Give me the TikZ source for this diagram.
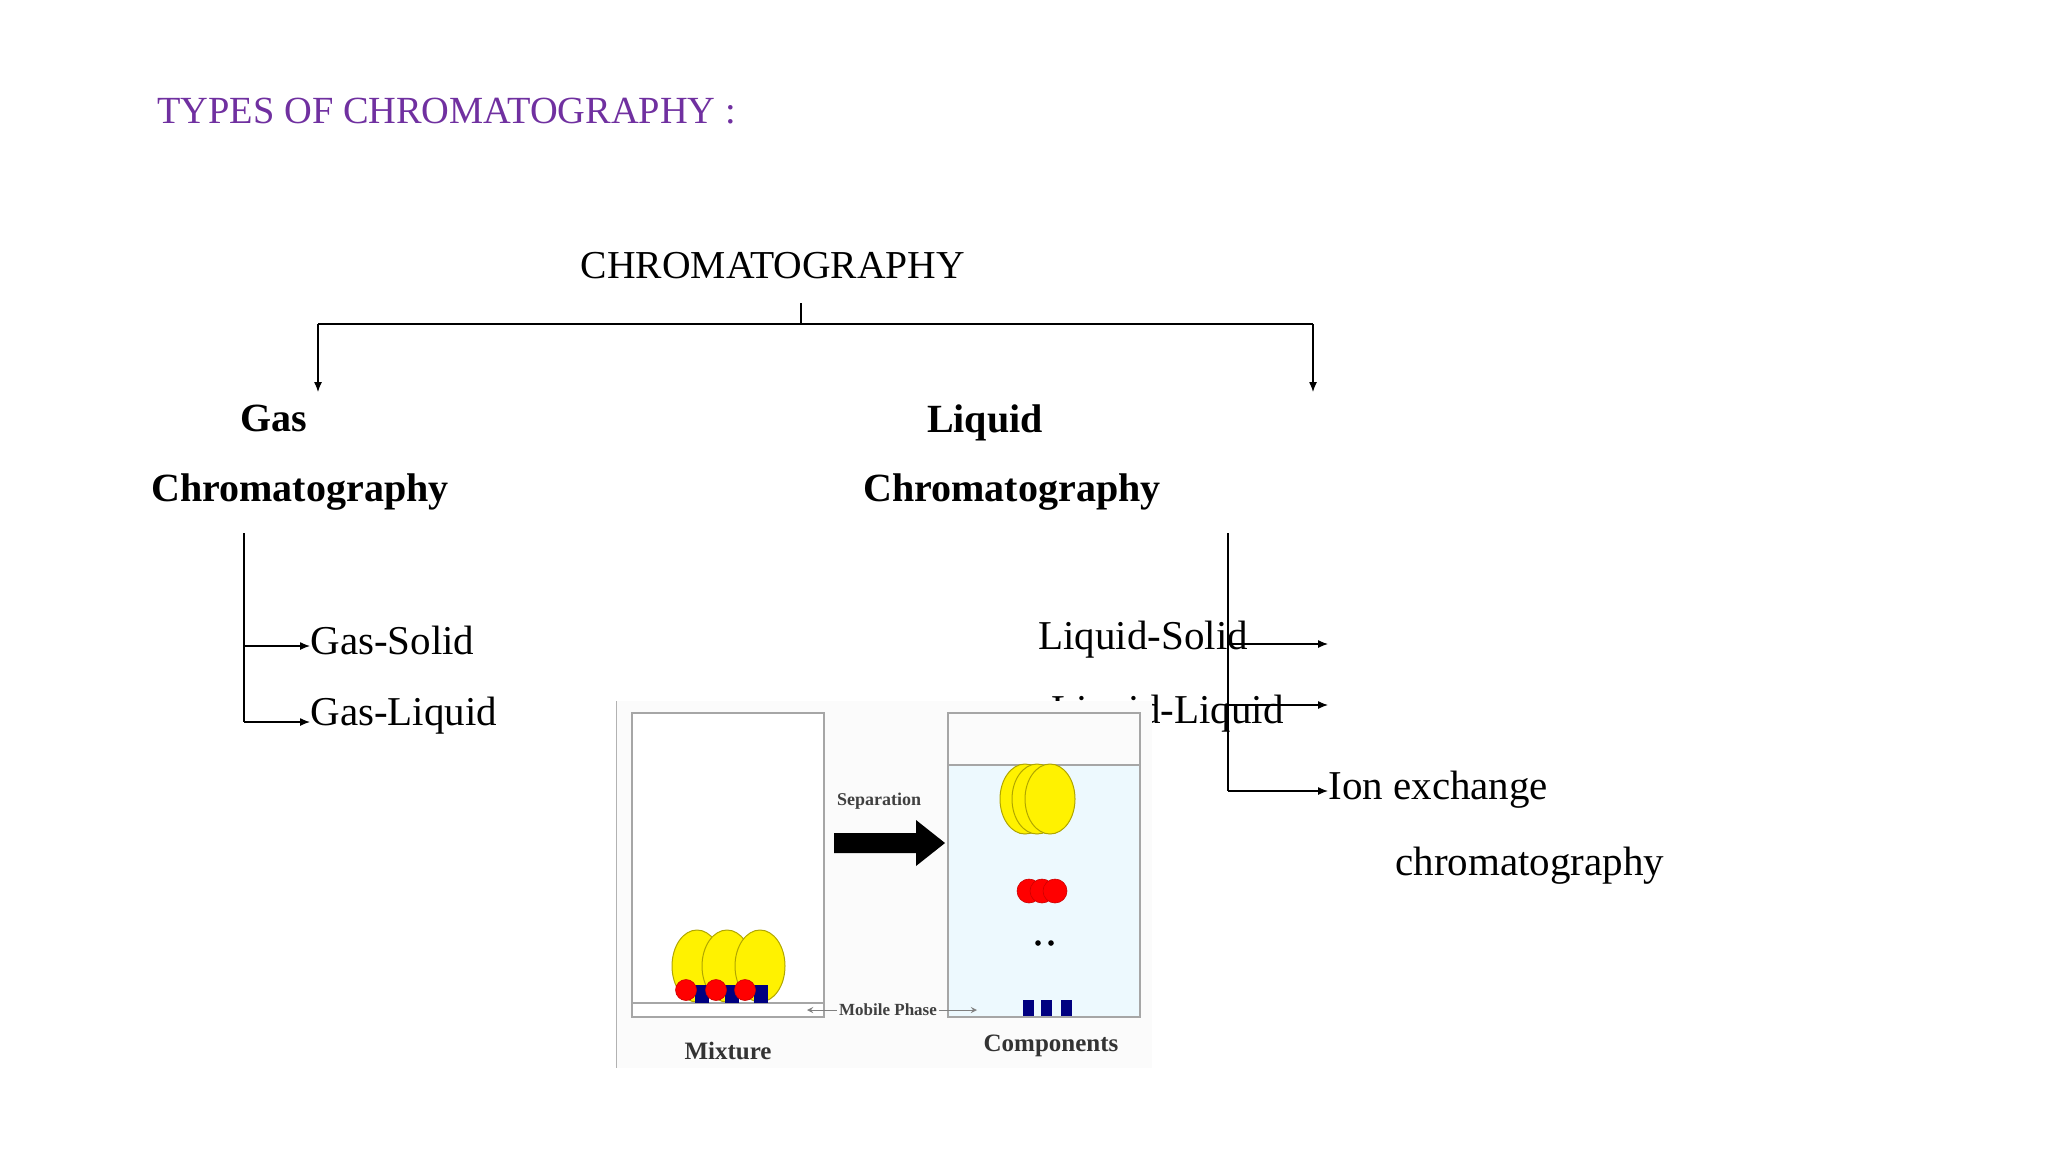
\documentclass[tikz,border=0pt]{standalone}
\usepackage{fontspec}
\setmainfont{Liberation Serif}
\usetikzlibrary{arrows.meta}
\begin{document}
\begin{tikzpicture}[x=0.5pt,y=-0.5pt,
  lbl/.style={inner sep=0pt,font=\fontsize{19}{19}\selectfont},
  sub/.style={inner sep=0pt,anchor=west,font=\fontsize{20.5}{20.5}\selectfont},
  con/.style={black,line width=0.6pt},
  arr/.style={con,-{Latex[length=5pt,width=4pt]}},
  box/.style={draw=gray!70,line width=0.8pt},
  yel/.style={fill=yellow,draw=olive!70!yellow,line width=0.5pt},
  redc/.style={fill=red,draw=red!80!black,line width=0.3pt},
  blu/.style={fill=blue!50!black}]
\useasboundingbox (0,0) rectangle (2048,1152);
\fill[white] (0,0) rectangle (2048,1152);
\definecolor{purp}{RGB}{112,48,160}
\node[inner sep=0pt,anchor=west,text=purp,font=\fontsize{19.2}{19.2}\selectfont] (title) at (157,111) {TYPES OF CHROMATOGRAPHY :};
\node[lbl,font=\fontsize{19.8}{19.8}\selectfont] (root) at (773,266) {CHROMATOGRAPHY};
\node[lbl,font=\bfseries\fontsize{20}{20}\selectfont] (gas1) at (274,418) {Gas};
\node[lbl,font=\bfseries\fontsize{20}{20}\selectfont] (gas2) at (300,492) {Chromatography};
\node[lbl,font=\bfseries\fontsize{20}{20}\selectfont] (liq1) at (985,423) {Liquid};
\node[lbl,font=\bfseries\fontsize{20}{20}\selectfont] (liq2) at (1012,492) {Chromatography};
\coordinate (rt) at (801,303);
\coordinate (rj) at (801,324);
\coordinate (gl) at (318,324);
\coordinate (gr) at (1313,324);
\coordinate (ga) at (318,392);
\coordinate (la) at (1313,392);
\draw[con] (rt) -- (rj);
\draw[con] (gl) -- (gr);
\draw[arr] (gl) -- (ga);
\draw[arr] (gr) -- (la);
% gas subtree
\node[sub] (gs) at (310,640) {Gas-Solid};
\node[sub] (gq) at (310,716) {Gas-Liquid};
\coordinate (gv1) at (244,533);
\coordinate (gv2) at (244,722);
\coordinate (gh1) at (244,646);
\draw[con] (gv1) -- (gv2);
\draw[arr] (gh1) -- (gs.west|-gh1);
\draw[arr] (gv2) -- (gq.west|-gv2);
% liquid subtree
\node[sub] (ls) at (1038,640) {Liquid-Solid};
\node[sub,anchor=east] (ll) at (1284,714) {Liquid-Liquid};
\node[sub] (ie) at (1328,790) {Ion exchange};
\node[sub] (ie2) at (1395,866) {chromatography};
\coordinate (lv1) at (1228,533);
\coordinate (lv2) at (1228,791);
\coordinate (le1) at (1328,644);
\coordinate (le2) at (1328,705);
\draw[con] (lv1) -- (lv2);
\draw[arr] (lv1|-le1) -- (le1);
\draw[arr] (lv1|-le2) -- (le2);
\draw[arr] (lv2) -- (ie.west|-lv2);
% inset picture
\fill[gray!3] (617,701) rectangle (1152,1068);
\draw[gray!60,line width=0.5pt] (616,701) -- (616,1068);
\fill[white] (632,713) rectangle (824,1017);
\draw[box] (632,713) rectangle (824,1017);
\draw[box] (632,1003) -- (824,1003);
\fill[cyan!7] (948,765) rectangle (1140,1017);
\draw[box] (948,713) rectangle (1140,1017);
\draw[box] (948,765) -- (1140,765);
\foreach \x in {697,727,760} \draw[yel] (\x,966) ellipse [x radius=25,y radius=36];
\foreach \x in {702,732,761} \fill[blu] (\x-7,985) rectangle (\x+7,1003);
\foreach \x in {686,716,745} \draw[redc] (\x,990) circle (10.5);
\foreach \x in {1025,1037,1050} \draw[yel] (\x,799) ellipse [x radius=25,y radius=35];
\foreach \x in {1029,1042,1055} \draw[redc] (\x,891) circle (12);
\foreach \x in {1038,1051} \fill (\x,943) circle (2.8);
\foreach \x in {1028,1046,1066} \fill[blu] (\x-5.5,1000) rectangle (\x+5.5,1016);
\fill[black] (834,833) -- (916,833) -- (916,820) -- (945,843) -- (916,866) -- (916,853) -- (834,853) -- cycle;
\node[inner sep=0pt,font=\bfseries\fontsize{9}{9}\selectfont,text=black!75] (sep) at (879,801) {Separation};
\node[inner sep=1pt,font=\bfseries\fontsize{8.5}{8.5}\selectfont,text=black!75] (mp) at (888,1010) {Mobile Phase};
\coordinate (mpl) at (807,1010);
\coordinate (mpr) at (977,1010);
\draw[gray,line width=0.4pt,-stealth] (mp.west) -- (mpl);
\draw[gray,line width=0.4pt,-stealth] (mp.east) -- (mpr);
\node[inner sep=0pt,font=\bfseries\fontsize{12.5}{12.5}\selectfont,text=black!80] (mix) at (728,1051) {Mixture};
\node[inner sep=0pt,font=\bfseries\fontsize{12.5}{12.5}\selectfont,text=black!80] (comp) at (1051,1046) {Components};
\end{tikzpicture}
\end{document}
